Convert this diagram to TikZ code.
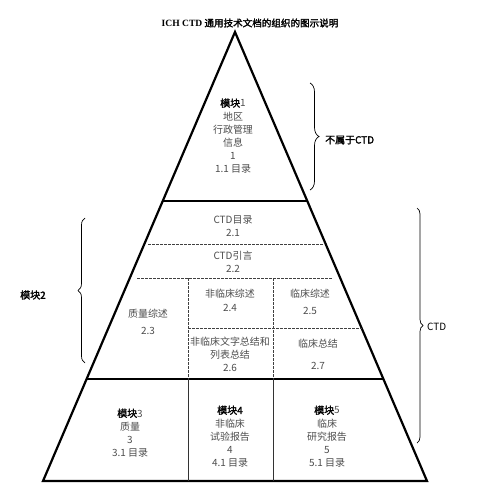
\documentclass[tikz,border=0pt]{standalone}
\usepackage{fontspec}
\setmainfont{Noto Sans CJK SC}[AutoFakeBold=2]
\newfontfamily\titlefont{Liberation Serif}
\usepackage{xcolor}
\usepackage{tikz}
\usetikzlibrary{calc,decorations.pathreplacing}

\definecolor{bodytext}{gray}{0.3}
\tikzset{
  outline/.style={line width=2.2bp, line join=miter},
  cell/.style={line width=0.8bp, black!80},
  split/.style={line width=0.9bp, black!75, dash pattern=on 2.5bp off 1.5bp},
  bracket/.style={line width=0.7bp, decorate, decoration={brace, amplitude=#1}},
  txt/.style={align=center, inner sep=0pt, text=bodytext, font=\fontsize{10}{13.2}\selectfont},
  side/.style={inner sep=0pt, font=\fontsize{10}{12}\selectfont\bfseries}
}

\begin{document}
\begin{tikzpicture}[x=1bp,y=-1bp]
        \useasboundingbox (0,0) rectangle (485,504);

        % Corners of the pyramid
        \coordinate (top) at (235,32);
        \coordinate (bl) at (43,481);
        \coordinate (br) at (427,481);

        % Level points on the two sides
        \coordinate (l1) at (162.7,201); \coordinate (r1) at (307.3,201);
        \coordinate (l2) at (148,244);   \coordinate (r2) at (323,244);
        \coordinate (l3) at (137,278);   \coordinate (r3) at (333,278);
        \coordinate (m4) at (188,328);   \coordinate (r4) at (361.6,328);
        \coordinate (l5) at (86.6,379);  \coordinate (r5) at (383.4,379);

        % Column points
        \coordinate (c1t) at (188,278); \coordinate (c1m) at (188,379); \coordinate (c1b) at (188,481);
        \coordinate (c2t) at (273,278); \coordinate (c2m) at (273,379); \coordinate (c2b) at (273,481);

        % Draw the pyramid and its levels
        \draw[outline] (top) -- (bl) -- (br) -- cycle;
        \draw[outline] (l1) -- (r1);
        \draw[outline] (l5) -- (r5);
        \draw[split] (l2) -- (r2);
        \draw[split] (l3) -- (r3);
        \draw[split] (m4) -- (r4);
        \draw[split] (c1t) -- (c1m);
        \draw[split] (c2t) -- (c2m);
        \draw[cell] (c1m) -- (c1b);
        \draw[cell] (c2m) -- (c2b);

        % Title
        \node[inner sep=0pt, font=\fontsize{9.6}{12}\selectfont\bfseries] (title) at (250,23) {{\titlefont ICH CTD} 通用技术文档的组织的图示说明};

        % Module 1
        \node[txt] (mod1) at (233,136) {{\color{black}\bfseries 模块}1\\地区\\行政管理\\信息\\1\\1.1 目录};

        % Module 2
        \node[txt] (toc) at (233,226.5) {CTD目录\\2.1};
        \node[txt] (intro) at (233,261.5) {CTD引言\\2.2};
        \node[txt] (qos) at (148,321.5) {质量综述\\[3.8bp]2.3};
        \node[txt] (nco) at (230,300) {非临床综述\\[1bp]2.4};
        \node[txt] (co) at (310,301.5) {临床综述\\[3.8bp]2.5};
        \node[txt] (ncs) at (230,354.5) {非临床文字总结和\\列表总结\\2.6};
        \node[txt] (cs) at (318,354) {临床总结\\[8.8bp]2.7};

        % Modules 3 to 5
        \node[txt] (mod3) at (130,433) {{\color{black}\bfseries 模块}3\\质量\\3\\3.1 目录};
        \node[txt] (mod4) at (230,436.5) {{\color{black}\bfseries 模块4}\\非临床\\试验报告\\4\\4.1 目录};
        \node[txt] (mod5) at (327,436.5) {{\color{black}\bfseries 模块}5\\临床\\研究报告\\5\\5.1 目录};

        % Braces and their labels
        \coordinate (b1t) at (310,83);  \coordinate (b1b) at (310,190);
        \coordinate (b2t) at (85,218);  \coordinate (b2b) at (85,363);
        \coordinate (b3t) at (417,208); \coordinate (b3b) at (417,443);
        \draw[bracket=9bp] (b1t) -- (b1b);
        \draw[bracket=7bp] (b2b) -- (b2t);
        \draw[bracket=6bp] (b3t) -- (b3b);
        \node[side, anchor=west] (notctd) at (325,140) {不属于CTD};
        \node[side] (mod2) at (33,295) {模块2};
        \node[side, anchor=west, font=\fontsize{10}{12}\selectfont] (ctd) at (427,327) {CTD};
    \end{tikzpicture}
\end{document}
